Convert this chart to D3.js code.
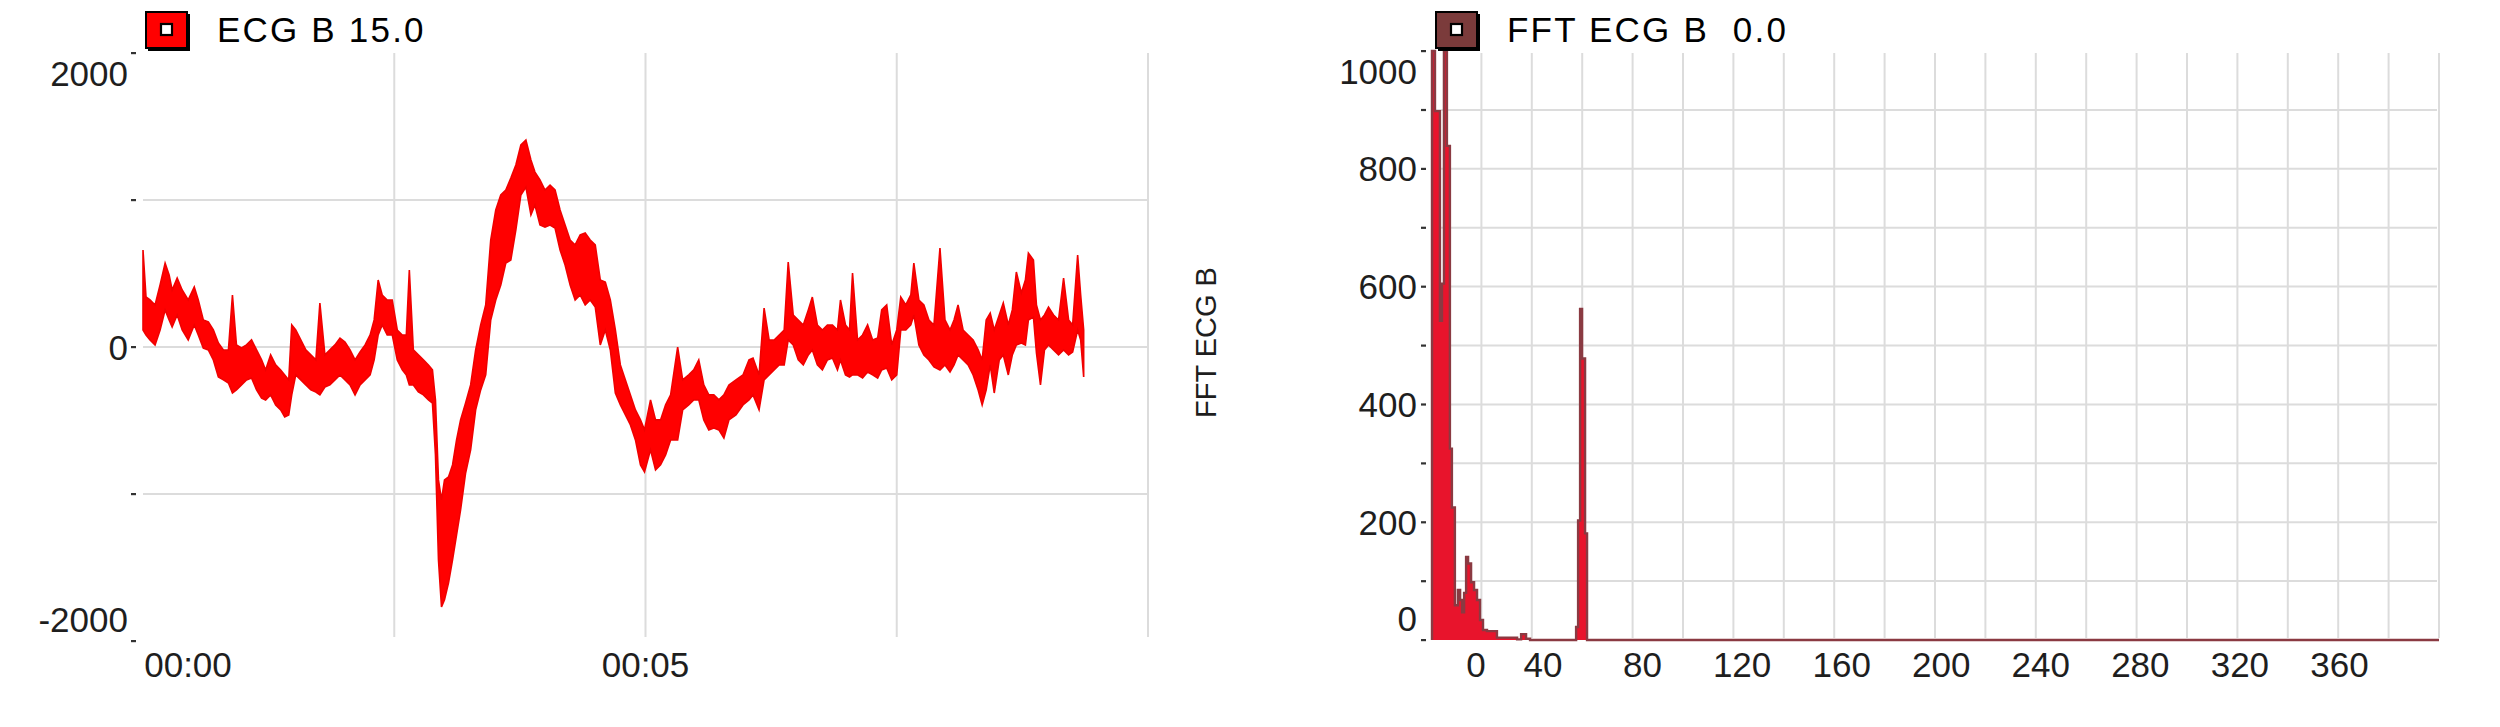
<!DOCTYPE html>
<html><head><meta charset="utf-8">
<script src="https://cdn.jsdelivr.net/npm/d3@7"></script>
<style>html,body{margin:0;padding:0;background:#fff;} svg{display:block;}</style>
</head><body>
<svg id="c" width="2500" height="727"></svg>
<script>
// ---------- ECG B (time series, min/max envelope per column) ----------
const ecgTitle = "ECG B 15.0";
const ecgTime = [0.00,0.03,0.07,0.12,0.17,0.22,0.26,0.29,0.34,0.39,
0.45,0.51,0.55,0.60,0.65,0.70,0.75,0.80,0.85,0.89,
0.93,0.98,1.03,1.08,1.13,1.18,1.22,1.27,1.32,1.37,
1.41,1.45,1.48,1.52,1.57,1.62,1.67,1.72,1.76,1.81,
1.86,1.91,1.96,2.01,2.06,2.11,2.16,2.21,2.26,2.30,
2.34,2.38,2.43,2.48,2.53,2.58,2.62,2.65,2.69,2.74,
2.79,2.84,2.88,2.91,2.94,2.97,3.00,3.04,3.08,3.12,
3.16,3.21,3.26,3.31,3.36,3.41,3.46,3.51,3.56,3.61,
3.66,3.71,3.76,3.81,3.86,3.90,3.95,4.00,4.05,4.10,
4.15,4.20,4.25,4.30,4.35,4.40,4.45,4.50,4.55,4.60,
4.65,4.70,4.75,4.80,4.85,4.90,4.95,4.99,5.05,5.10,
5.15,5.20,5.25,5.32,5.37,5.43,5.48,5.53,5.58,5.63,
5.68,5.73,5.78,5.83,5.90,5.97,6.03,6.07,6.13,6.18,
6.23,6.28,6.33,6.38,6.42,6.47,6.52,6.57,6.62,6.66,
6.71,6.76,6.81,6.86,6.91,6.94,6.99,7.03,7.06,7.11,
7.16,7.21,7.26,7.31,7.35,7.40,7.45,7.50,7.54,7.59,
7.64,7.67,7.72,7.77,7.82,7.87,7.93,7.98,8.03,8.07,
8.11,8.16,8.21,8.26,8.31,8.35,8.39,8.43,8.47,8.52,
8.56,8.61,8.65,8.69,8.74,8.78,8.81,8.86,8.89,8.93,
8.97,9.01,9.06,9.11,9.16,9.21,9.25,9.30,9.33,9.36];
const ecgHigh = [660,340,320,286,422,571,490,388,469,388,320,408,320,184,170,116,27,-20,-20,354,
14,-7,14,48,-20,-88,-156,-54,-122,-156,-190,-224,150,116,48,-20,-54,-88,299,-54,
-20,14,61,34,-20,-88,-34,14,82,184,456,354,320,320,116,82,82,524,-20,-54,
-88,-122,-156,-360,-904,-1040,-904,-884,-802,-632,-496,-381,-258,-20,150,286,728,932,1034,1068,
1149,1238,1374,1408,1272,1190,1136,1068,1102,1068,932,830,728,694,762,775,728,694,456,442,
320,116,-122,-224,-326,-428,-496,-564,-360,-496,-496,-394,-326,0,-224,-190,-156,-88,-258,-326,
-326,-360,-326,-258,-224,-190,-88,-75,-190,265,48,48,82,116,578,218,184,150,252,340,
150,116,150,150,116,320,150,116,503,48,82,150,48,61,252,286,14,116,340,286,
354,571,320,286,184,150,673,184,116,184,286,116,82,48,-20,-88,184,231,116,218,
299,150,252,510,367,456,639,592,286,184,218,272,218,184,469,184,150,626,354,116];
const ecgLow = [116,82,48,14,116,252,184,136,218,116,48,150,82,-7,-20,-88,-204,-224,-245,-313,
-292,-258,-224,-211,-292,-347,-360,-326,-394,-428,-476,-462,-326,-190,-224,-258,-292,-306,-326,-272,
-258,-224,-190,-224,-258,-326,-258,-224,-190,-88,82,150,82,82,-88,-156,-190,-258,-258,-306,
-326,-360,-381,-734,-1448,-1768,-1720,-1605,-1448,-1278,-1108,-857,-700,-428,-292,-190,184,320,422,571,
592,796,1034,1088,898,966,830,816,830,809,660,558,422,320,354,286,320,272,14,116,
-20,-313,-394,-462,-530,-632,-802,-850,-700,-836,-802,-734,-632,-632,-428,-394,-360,-360,-496,-564,
-551,-564,-619,-496,-462,-394,-360,-326,-428,-224,-190,-156,-122,-122,48,14,-88,-122,-54,-20,
-122,-156,-88,-75,-156,-88,-190,-204,-190,-190,-211,-170,-190,-211,-156,-143,-224,-190,116,116,
150,218,14,-54,-88,-136,-156,-122,-170,-122,-54,-88,-122,-190,-292,-394,-292,-122,-313,-88,
-54,-190,-54,14,27,14,184,204,-41,-258,-20,14,-20,-54,-20,-54,-34,116,48,-204];
const ecgYTicks = [-2000, -1000, 0, 1000, 2000];
const ecgYLabels = [-2000, 0, 2000];
const ecgXLabels = [0, 5];        // seconds
const ecgXDomain = [0, 10];
const ecgXDivisions = 4;

// ---------- FFT ECG B (spectrum) ----------
const fftTitle = "FFT ECG B  0.0";
const fftAxisTitle = "FFT ECG B";
const fftFreq = [-4.6,-3.4,-1.4,-0.6,0.2,1.4,2.6,3.4,4.6,5.8,6.7,7.5,8.3,9.1,9.9,11.1,12.3,13.5,14.7,15.9,17.5,21.5,29.6,31.2,33.2,34.8,53.3,54.1,54.9,55.7,56.9,57.7,400];
const fftMag  = [1000,898,542,605,1000,839,325,225,59,85,68,47,80,141,130,98,85,68,34,17,15,4,1,10,2,0,22,203,562,478,181,0,0];
const fftYTicks = [0,100,200,300,400,500,600,700,800,900,1000];
const fftYLabels = [0,200,400,600,800,1000];
const fftXLabels = [0,40,80,120,160,200,240,280,320,360];
const fftXDomain = [-5, 400];
const fftXDivisions = 20;

// ---------- drawing ----------
const svg = d3.select("#c");
const FONT = "'Liberation Sans', Arial, sans-serif";
const GRID = "#dcdcdc", TXT = "#1e1e1e";

function legend(x, y, color, text) {
  const g = svg.append("g");
  g.append("rect").attr("x", x+2).attr("y", y+2).attr("width", 42).attr("height", 37).attr("fill", "#000");
  g.append("rect").attr("x", x).attr("y", y).attr("width", 41).attr("height", 36)
    .attr("fill", color).attr("stroke", "#000").attr("stroke-width", 2);
  g.append("rect").attr("x", x+15).attr("y", y+12).attr("width", 11).attr("height", 11)
    .attr("fill", "#fff").attr("stroke", "#000").attr("stroke-width", 2.2);
  g.append("text").attr("x", x+71).attr("y", y+30).attr("font-family", FONT)
    .attr("font-size", 35).attr("letter-spacing", 2.2).attr("fill", "#000").attr("xml:space","preserve").text(text);
}

function yAxis(yScale, ticks, labels, tickX, labelX, top, bottom) {
  const g = svg.append("g");
  g.selectAll("rect.t").data(ticks).join("rect")
    .attr("x", tickX).attr("y", d => yScale(d) - 1).attr("width", 5).attr("height", 2.2).attr("fill", "#333");
  g.selectAll("text").data(labels).join("text")
    .attr("x", labelX).attr("y", d => Math.max(top + 20, Math.min(bottom - 22, yScale(d))))
    .attr("dy", "0.36em").attr("text-anchor", "end").attr("font-family", FONT).attr("font-size", 35)
    .attr("fill", TXT).text(d => d);
}

// ECG chart
const eL = 143, eR = 1148, eT = 53, eB = 641;
const ex = d3.scaleLinear().domain(ecgXDomain).range([eL, eR]);
const ey = d3.scaleLinear().domain([-2000, 2000]).range([eB, eT]);
const eg = svg.append("g");
const exGrid = d3.range(1, ecgXDivisions + 1).map(k => ecgXDomain[0] + k * (ecgXDomain[1] - ecgXDomain[0]) / ecgXDivisions);
eg.selectAll("line.v").data(exGrid).join("line")
  .attr("x1", d => ex(d)).attr("x2", d => ex(d)).attr("y1", eT).attr("y2", eB - 4)
  .attr("stroke", GRID).attr("stroke-width", 2);
eg.selectAll("line.h").data(ecgYTicks.filter(d => d > -2000 && d < 2000)).join("line")
  .attr("x1", eL).attr("x2", eR).attr("y1", d => ey(d)).attr("y2", d => ey(d))
  .attr("stroke", GRID).attr("stroke-width", 2);
yAxis(ey, ecgYTicks, ecgYLabels, 131, 128, eT, eB);
const fmtT = s => d3.format("02")(Math.floor(s / 60)) + ":" + d3.format("02")(s % 60);
eg.selectAll("text.x").data(ecgXLabels).join("text")
  .attr("x", d => Math.max(eL + 45, ex(d))).attr("y", 677).attr("text-anchor", "middle")
  .attr("font-family", FONT).attr("font-size", 35).attr("fill", TXT).text(fmtT);
const ecgData = ecgTime.map((t, i) => ({t, hi: ecgHigh[i], lo: ecgLow[i]}));
eg.append("path").datum(ecgData)
  .attr("d", d3.area().x(d => ex(d.t)).y0(d => ey(d.lo)).y1(d => ey(d.hi)))
  .attr("fill", "#ff0000").attr("stroke", "#f00000").attr("stroke-width", 1.6).attr("stroke-linejoin", "miter");
legend(146, 12, "#ff0000", ecgTitle);

// FFT chart
const fL = 1431, fR = 2439, fT = 51, fB = 640;
const fx = d3.scaleLinear().domain(fftXDomain).range([fL, fR]);
const fy = d3.scaleLinear().domain([0, 1000]).range([fB, fT]).clamp(true);
const fg = svg.append("g");
const fxGrid = d3.range(1, fftXDivisions + 1).map(k => fftXDomain[0] + k * (fftXDomain[1] - fftXDomain[0]) / fftXDivisions);
fg.selectAll("line.v").data(fxGrid).join("line")
  .attr("x1", d => fx(d)).attr("x2", d => fx(d)).attr("y1", fT + 2).attr("y2", fB - 2)
  .attr("stroke", GRID).attr("stroke-width", 2);
fg.selectAll("line.h").data(fftYTicks.filter(d => d > 0 && d < 1000)).join("line")
  .attr("x1", fL).attr("x2", fR - 2).attr("y1", d => fy(d)).attr("y2", d => fy(d))
  .attr("stroke", GRID).attr("stroke-width", 2);
yAxis(fy, fftYTicks, fftYLabels, 1421, 1417, fT, fB);
fg.selectAll("text.x").data(fftXLabels).join("text")
  .attr("x", d => Math.max(fL + 45, fx(d))).attr("y", 677).attr("text-anchor", "middle")
  .attr("font-family", FONT).attr("font-size", 35).attr("fill", TXT).text(d => d);
svg.append("text").attr("transform", `translate(1216,${(fT + fB) / 2 - 3}) rotate(-90)`)
  .attr("text-anchor", "middle").attr("font-family", FONT).attr("font-size", 29).attr("fill", TXT).text(fftAxisTitle);
const fftData = fftFreq.map((f, i) => ({f, m: fftMag[i]}));
fg.append("path").datum(fftData)
  .attr("d", d3.area().curve(d3.curveStepAfter).x(d => fx(d.f)).y0(fy(0)).y1(d => fy(d.m)))
  .attr("fill", "#e8142c");
fg.append("path").datum([{f: fftFreq[0], m: 0}].concat(fftData))
  .attr("d", d3.line().curve(d3.curveStepAfter).x(d => fx(d.f)).y(d => fy(d.m)))
  .attr("fill", "none").attr("stroke", "#8a3a42").attr("stroke-width", 2.4);
legend(1436, 12, "#7b3b3b", fftTitle);
</script>
</body></html>
